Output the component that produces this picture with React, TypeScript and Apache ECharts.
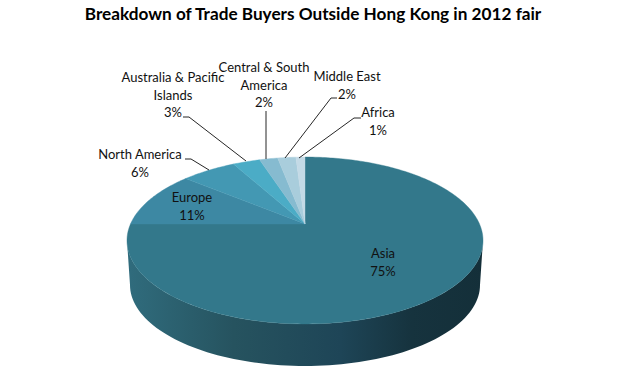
import React, { useEffect, useRef } from "react";
import * as echarts from "echarts";

const titleText = "Breakdown of Trade Buyers Outside Hong Kong in 2012 fair";
const categories = ["Asia", "Europe", "North America", "Australia & Pacific\nIslands", "Central & South\nAmerica", "Middle East", "Africa"];
const shares = [75, 11, 6, 3, 2, 2, 1];
const sliceColors = ["#33788b", "#3d88a3", "#4398b3", "#4bacc6", "#86bbd0", "#a9cddc", "#c4dae6"];
const wallStops = [
  [0, "#306c7d"],
  [0.3, "#26535f"],
  [0.6, "#1e4557"],
  [0.8, "#16333e"],
  [1, "#142f39"],
];

// label centre (x, first-line y) and leader polyline for each category
const labelPlaces = [
  [383, 253],
  [192, 197],
  [140, 154],
  [173, 77],
  [264, 67],
  [347, 76],
  [378, 112],
];
const leaders: number[][][] = [
  [],
  [],
  [[185, 159], [191, 159], [209, 170]],
  [[183, 117], [189, 117], [246, 161]],
  [[266, 111], [266, 159]],
  [[337, 98], [331, 98], [285, 158]],
  [[361, 118], [354, 118], [299, 158]],
];

const CX = 305;
const APEX_Y = 224;
const R = 174.5;
const H = 80.2;
const K = 0.1976;
const FONT = "Lato, Carlito, Calibri, sans-serif";
const total = shares.reduce((a, b) => a + b, 0);

// perspective projection of a rim point, angle clockwise from the top
function rim(a: number): number[] {
  const u = Math.sin(a);
  const v = Math.cos(a);
  const s = 1 / (1 + K * v);
  return [CX + R * u * s, APEX_Y - H * v * s];
}

function frontWall(): number[][] {
  const pts: number[][] = [];
  for (let d = 0; d <= 180; d += 2) {
    const t = (d * Math.PI) / 180;
    pts.push([305 - 178 * Math.cos(t), 240.5 + 83.5 * Math.sin(t)]);
  }
  for (let d = 180; d >= 0; d -= 2) {
    const t = (d * Math.PI) / 180;
    pts.push([305 - 175 * Math.cos(t), 285 + 81 * Math.sin(t)]);
  }
  return pts;
}

function renderSlice(params: any, api: any) {
  const i = params.dataIndex;
  const before = shares.slice(0, i).reduce((a, b) => a + b, 0);
  const start = (before / total) * Math.PI * 2;
  const sweep = (api.value(0) / total) * Math.PI * 2;
  const pts: number[][] = [[CX, APEX_Y]];
  const steps = Math.max(4, Math.ceil((sweep * 180) / Math.PI));
  for (let s = 0; s <= steps; s++) pts.push(rim(start + (sweep * s) / steps));

  const children: any[] = [];
  if (i === 0) {
    children.push({
      type: "polygon",
      shape: { points: frontWall() },
      style: {
        fill: new echarts.graphic.LinearGradient(0, 0, 1, 0, wallStops.map(([offset, color]) => ({ offset, color })) as any),
      },
    });
  }
  children.push({
    type: "polygon",
    shape: { points: pts },
    style: { fill: sliceColors[i], stroke: sliceColors[i], lineWidth: 0.4 },
  });
  return { type: "group", children };
}

function renderLabel(params: any, api: any) {
  const i = params.dataIndex;
  const children: any[] = [];
  if (leaders[i].length) {
    children.push({
      type: "polyline",
      shape: { points: leaders[i] },
      style: { fill: "none", stroke: "#262626", lineWidth: 1 },
    });
  }
  children.push({
    type: "text",
    x: labelPlaces[i][0],
    y: labelPlaces[i][1] - 9,
    style: {
      text: `${categories[i]}\n${api.value(0)}%`,
      fill: "#111111",
      font: `13px ${FONT}`,
      align: "center",
      verticalAlign: "top",
      lineHeight: 17.7,
    },
  });
  return { type: "group", children };
}

export default function App() {
  const ref = useRef<HTMLDivElement>(null);
  useEffect(() => {
    const chart = echarts.init(ref.current!, null, { renderer: "svg" });
    const data = categories.map((name, i) => ({ name, value: shares[i] }));
    chart.setOption({
      animation: false,
      backgroundColor: "#ffffff",
      title: {
        text: titleText,
        left: 308,
        top: 0,
        textAlign: "center",
        textStyle: { fontFamily: FONT, fontWeight: "bold", fontSize: 17.2, color: "#000000" },
      },
      series: [
        { type: "custom", coordinateSystem: "none", silent: true, renderItem: renderSlice, data, z: 1 },
        { type: "custom", coordinateSystem: "none", silent: true, renderItem: renderLabel, data, z: 2 },
      ],
    });
    return () => chart.dispose();
  }, []);
  return <div ref={ref} style={{ position: "fixed", left: 0, top: 0, width: 620, height: 375 }} />;
}
